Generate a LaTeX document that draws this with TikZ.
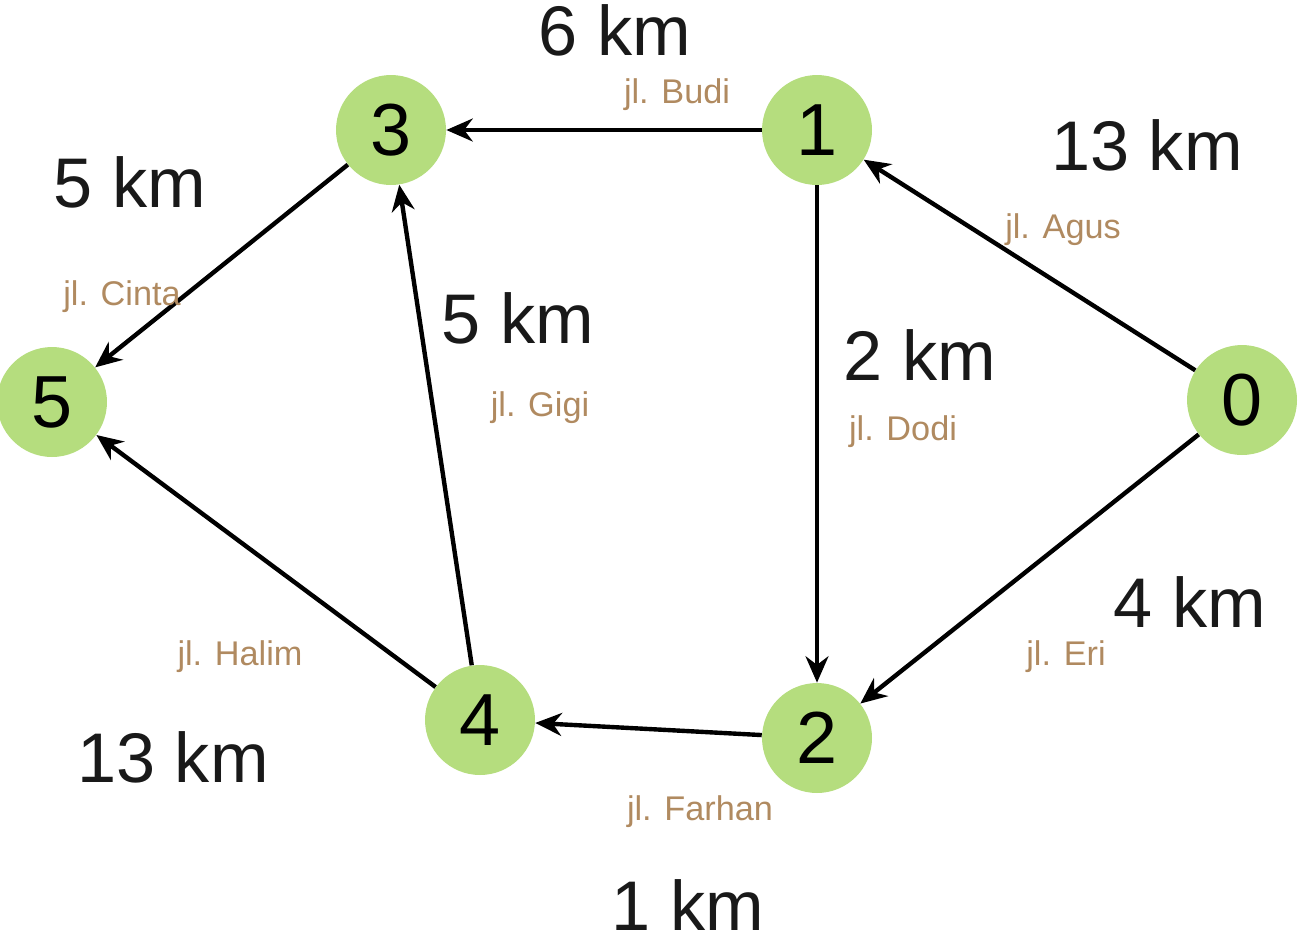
\documentclass[tikz,border=0pt]{standalone}
\usepackage{fontspec}
\setmainfont{Liberation Sans}
\usetikzlibrary{arrows.meta}
\definecolor{ng}{HTML}{B5DD7E}
\definecolor{st}{HTML}{B08A60}
\begin{document}
\begin{tikzpicture}[x=0.02cm,y=-0.02cm,
 vtx/.style={circle,fill=ng,minimum size=2.2cm,inner sep=0pt,font=\fontsize{42}{42}\selectfont},
 km/.style={font=\fontsize{40}{40}\selectfont,text=black!90},
 street/.style={font=\fontsize{19.5}{19.5}\selectfont,text=st},
 edge/.style={line width=2.5pt,-{Stealth[length=15pt,width=13pt]}}]
\useasboundingbox (0,0) rectangle (1300,934);
\node[vtx] (n3) at (391,130) {3};
\node[vtx] (n1) at (817,130) {1};
\node[vtx] (n5) at (52,402) {5};
\node[vtx] (n0) at (1242,400) {0};
\node[vtx] (n4) at (480,720) {4};
\node[vtx] (n2) at (817,738) {2};
\draw[edge] (n1) -- (n3);
\draw[edge] (n0) -- (n1);
\draw[edge] (n1) -- (n2);
\draw[edge] (n0) -- (n2);
\draw[edge] (n3) -- (n5);
\draw[edge] (n4) -- (n3);
\draw[edge] (n4) -- (n5);
\draw[edge] (n2) -- (n4);
\node[km] (k1) at (615,30) {6 km};
\node[km] (k2) at (1147,145) {13 km};
\node[km] (k3) at (130,182) {5 km};
\node[km] (k4) at (518,318) {5 km};
\node[km] (k5) at (920,355) {2 km};
\node[km] (k6) at (1190,602) {4 km};
\node[km] (k7) at (173,757) {13 km};
\node[km] (k8) at (688,905) {1 km};
\node[street] (s1) at (677,95) {jl. Budi};
\node[street] (s2) at (1063,230) {jl. Agus};
\node[street] (s3) at (122,297) {jl. Cinta};
\node[street] (s4) at (540,408) {jl. Gigi};
\node[street] (s5) at (903,432) {jl. Dodi};
\node[street] (s6) at (1066,657) {jl. Eri};
\node[street] (s7) at (240,657) {jl. Halim};
\node[street] (s8) at (700,812) {jl. Farhan};
\end{tikzpicture}
\end{document}
